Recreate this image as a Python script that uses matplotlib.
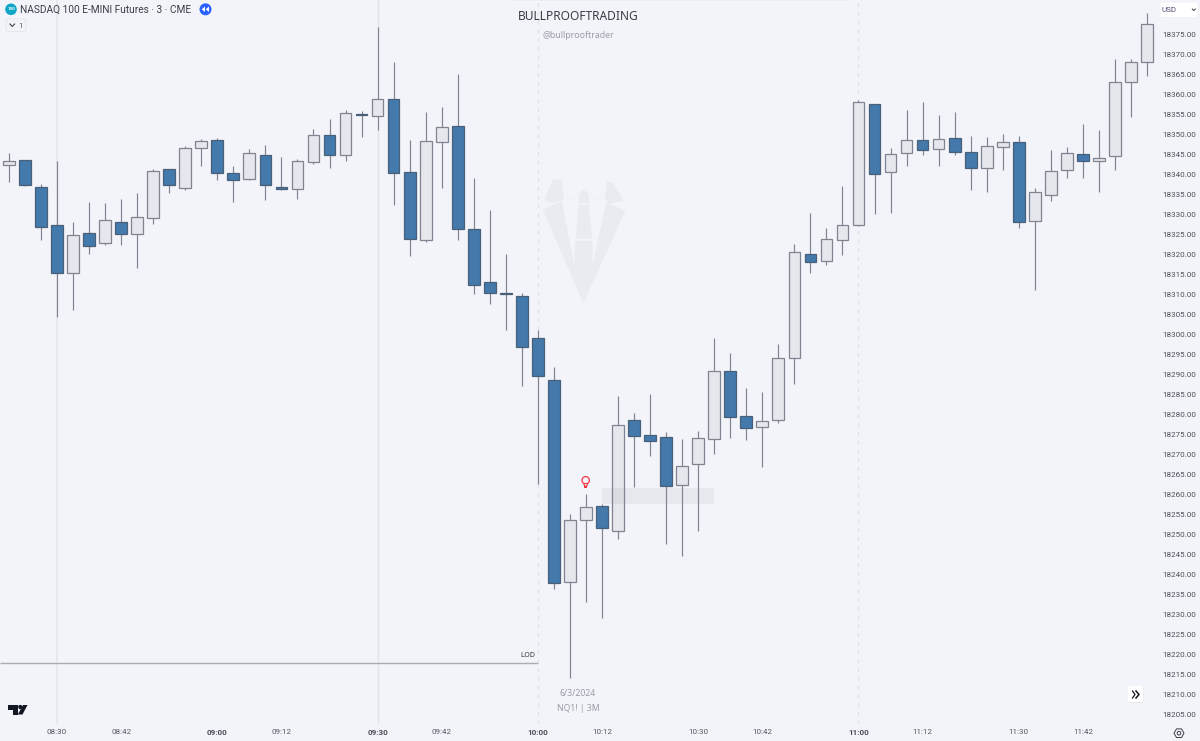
import matplotlib
matplotlib.use("Agg")
import matplotlib.pyplot as plt
from matplotlib.patches import Circle, FancyBboxPatch, Polygon, Rectangle
from matplotlib.transforms import ScaledTranslation
import numpy as np
import pandas as pd

plt.rcParams['font.family'] = ['Roboto', 'DejaVu Sans']

# ---------- data ----------
opens = [18342.25,18343.5,18336.75,18327.25,18315.25,18325.25,18322.75,18328,18325,18329,18341.25,18336.5,
         18346.5,18348.5,18340.25,18338.75,18344.75,18336.75,18336.25,18343,18349.75,18344.75,18355,18354.5,
         18358.75,18340.5,18323.5,18348,18352,18326.25,18313,18310.25,18309.5,18299,18288.5,18238,
         18253.5,18257,18250.75,18278.5,18274.75,18274.25,18262.25,18267.5,18273.75,18290.75,18279.5,18276.75,
         18278.5,18294,18320,18318.25,18323.5,18327.25,18357.5,18340.5,18345.25,18348.5,18346.25,18349,
         18345.5,18341.5,18346.75,18348,18328.25,18334.75,18341,18345,18343.25,18344.5,18363,18368]
highs = [18345.25,18343.5,18337.5,18343.25,18328,18333,18332.75,18333.75,18335.25,18341.25,18341.25,18347,
         18348.75,18349,18342,18346.25,18347.25,18344.25,18343.75,18351.25,18353.75,18356,18355.75,18376.75,
         18368,18348.5,18355.5,18356.75,18365,18339,18331,18320,18310.25,18301,18291.75,18255,
         18260,18257.5,18284.5,18280.25,18285,18275.5,18273.75,18275.75,18299,18295.25,18286.5,18285.5,
         18297.5,18322.5,18330.25,18326.5,18337,18358.5,18357.5,18346.5,18356,18358,18354.75,18355.5,
         18349.5,18349.25,18350,18349.5,18336.5,18346,18346.75,18352.5,18351,18368.75,18368.75,18380.25]
lows = [18338,18337,18323.5,18304.25,18306,18320,18322.25,18322.25,18316.5,18327.5,18335.25,18336,
        18342,18338.5,18333,18338.5,18333.5,18336,18333.75,18342.5,18341.5,18343.25,18349.25,18351,
        18332.25,18319.5,18323,18336.5,18323.5,18310,18307.5,18301,18287,18262.5,18236.25,18214,
        18233,18229,18248.75,18261.75,18269.5,18247.5,18244.5,18250.75,18270,18274,18273.5,18266.75,
        18277.75,18287.5,18315.25,18317.25,18319.75,18327,18330,18330.25,18342,18344.75,18342,18344.75,
        18336,18335.5,18341,18326.5,18311,18333.25,18339,18339,18335.5,18341,18354.25,18364.5]
closes = [18343.25,18337.25,18326.75,18315.25,18324.75,18322,18328.5,18325,18329.25,18340.75,18337.25,18346.5,
          18348.25,18340.25,18338.5,18345.25,18337.25,18336.25,18343.25,18349.75,18344.75,18355.25,18354.75,18358.75,
          18340.25,18323.75,18348.25,18351.75,18326.25,18312.25,18310.25,18310,18296.75,18289.5,18237.75,18253.5,
          18256.75,18251.5,18277.25,18274.5,18273.25,18262,18267,18274,18290.75,18279.25,18276.5,18278.25,
          18294,18320.5,18318,18323.75,18327.25,18358,18340,18345,18348.5,18346,18348.75,18345.5,
          18341.5,18347,18348,18328,18335.5,18340.75,18345.25,18343.25,18344,18363,18368,18377.5]
first_bar_time = "08:21"
tick_labels = ["08:30","08:42","09:00","09:12","09:30","09:42","10:00","10:12","10:30","10:42","11:00","11:12","11:30","11:42"]
bold_labels = ["09:00","09:30","10:00","11:00"]
price_ticks = list(range(18205, 18380, 5))
lod_price = 18217.75
lod_label = "LOD"
zone_prices = (18257.5, 18261.5)
zone_times = ("10:12", "10:33")
solid_times = ["08:30", "09:30"]
dashed_times = ["10:00", "11:00"]
bulb_time = "10:09"

# ---------- style ----------
BG = "#f3f4fa"
W, H = 1200, 741
UP, DOWN, EDGE, DOWN_EDGE = "#e6e7ec", "#4379ab", "#808390", "#4a6078"

fig = plt.figure(figsize=(W/100, H/100), dpi=100, facecolor=BG)

def overlay(z):
    a = fig.add_axes([0, 0, 1, 1], zorder=z)
    a.set_xlim(0, W); a.set_ylim(H, 0); a.axis("off")
    return a

back = overlay(0)
PLOT_W, PLOT_H = 1155, 724
ax = fig.add_axes([0, (H-PLOT_H)/H, PLOT_W/W, PLOT_H/H], zorder=1)
ax.patch.set_alpha(0)
top = overlay(2)

# ---------- suit watermark ----------
SUIT = "#eaebf0"
def z(pts):
    return [(520+x/3, 170+y/3) for x, y in pts]
for pts in (
    [(100,28),(125,28),(131,88),(100,100),(72,90)],
    [(260,36),(280,38),(310,92),(268,102),(254,88)],
    [(68,118),(126,93),(165,300),(190,400)],
    [(316,122),(258,98),(215,300),(190,400)],
    [(175,100),(178,70),(190,58),(205,70),(208,100)],
    [(176,104),(207,104),(216,206),(167,206)],
    [(166,212),(217,212),(218,300),(190,400),(162,300)],
):
    back.add_patch(Polygon(z(pts), closed=True, fc=SUIT, ec="none"))
for pts in ([(132,68),(152,90),(176,66)], [(250,68),(232,90),(208,66)]):
    back.plot(*zip(*z(pts)), color="#eff0f5", lw=0.8)

# ---------- candles ----------
o, h, l, c = map(np.array, (opens, highs, lows, closes))
x = np.arange(len(o))
bar_times = list(pd.date_range("2024-06-03 " + first_bar_time, periods=len(o), freq="3min").strftime("%H:%M"))
idx = {t: i for i, t in enumerate(bar_times)}
is_up = c >= o

ax.set_xlim((0-8.9)/16.03, (PLOT_W-8.9)/16.03)
ax.set_ylim(18375-(PLOT_H-33.8)/4, 18375+33.8/4)

for t in solid_times:
    ax.axvline(idx[t], color="#e6e8ed" if t == "08:30" else "#e1e3e8", lw=1.4 if t == "08:30" else 1.0, zorder=1)
for t in dashed_times:
    ax.axvline(idx[t], color="#dfe1e7", lw=0.9, ls=(0, (3, 4)), zorder=1)
ax.plot([ax.get_xlim()[0], idx[dashed_times[0]]], [lod_price, lod_price], color="#a9acb3", lw=1.0, zorder=2, solid_capstyle="butt")
ax.text(idx[dashed_times[0]]-0.15, lod_price+1.3, lod_label, ha="right", va="bottom", fontsize=5.8, color="#3f424b")

ax.vlines(x, l, h, color=EDGE, lw=0.85, zorder=3)
ax.bar(x[is_up], (c-o)[is_up], bottom=o[is_up], width=0.73, color=UP, edgecolor=EDGE, linewidth=0.9, zorder=4)
ax.bar(x[~is_up], (c-o)[~is_up], bottom=o[~is_up], width=0.73, color=DOWN, edgecolor=DOWN_EDGE, linewidth=0.9, zorder=4)

ax.add_patch(Rectangle((idx[zone_times[0]], zone_prices[0]), idx[zone_times[1]]-idx[zone_times[0]]-0.02,
                       zone_prices[1]-zone_prices[0], fc="#7d8088", alpha=0.10, ec="none", zorder=5))

# ---------- axes ----------
for s in ax.spines.values():
    s.set_visible(False)
ax.yaxis.tick_right()
ax.set_yticks(price_ticks)
ax.set_yticklabels([f"{p:.2f}" for p in price_ticks], fontsize=5.8, color="#4c4f58")
ax.tick_params(axis="y", length=0, pad=5.6)
down_1px = ScaledTranslation(0, -1/100, fig.dpi_scale_trans)
for lab in ax.get_yticklabels():
    lab.set_transform(lab.get_transform() + down_1px)
ax.set_xticks([idx[t] for t in tick_labels])
ax.set_xticklabels(tick_labels, fontsize=5.8, color="#565963")
ax.tick_params(axis="x", length=0, pad=3.4)
for lab in ax.get_xticklabels():
    if lab.get_text() in bold_labels:
        lab.set_fontweight("bold"); lab.set_color("#4a4d57")

# ---------- header ----------
top.add_patch(Rectangle((510, 0), 340, 1, fc="#ebedf2", ec="none"))
top.add_patch(Circle((11, 9.3), 5.8, fc="#0ea5c6", ec="none"))
top.text(11, 9.5, "100", color="white", fontsize=3.2, ha="center", va="center", fontweight="bold")
top.text(19.5, 9.5, "NASDAQ 100 E-MINI Futures · 3 · CME", fontsize=7.25, color="#3c3f48", ha="left", va="center")
top.add_patch(Circle((205.5, 9.3), 6, fc="#2962ff", ec="none"))
top.add_patch(Polygon([(205, 6.5), (205, 12), (201.7, 9.3)], fc="white", ec="none"))
top.add_patch(Polygon([(209, 6.5), (209, 12), (205.7, 9.3)], fc="white", ec="none"))
top.add_patch(FancyBboxPatch((6, 19), 20, 12.5, boxstyle="round,pad=0,rounding_size=2", fc=BG, ec="#e4e6eb", lw=0.7))
top.plot([10, 12.3, 14.6], [24, 26.5, 24], color="#3c3f48", lw=0.8)
top.text(20.5, 25.5, "1", fontsize=6, color="#5d606b", ha="center", va="center")

top.text(578, 16.5, "BULLPROOFTRADING", family=["Noto Sans", "DejaVu Sans"], fontsize=8.6, color="#3a3d46", ha="center", va="center")
top.text(578, 35, "@bullprooftrader", family=["Noto Sans", "DejaVu Sans"], fontsize=6.3, color="#9a9da6", ha="center", va="center")
top.text(578, 693, "6/3/2024", family=["Noto Sans", "DejaVu Sans"], fontsize=6.2, color="#9a9da6", ha="center", va="center")
top.text(578, 708.5, "NQ1! | 3M", family=["Noto Sans", "DejaVu Sans"], fontsize=6.2, color="#9a9da6", ha="center", va="center")

# ---------- bulb ----------
RED = "#f23645"
bx = 8.9 + 16.03*idx[bulb_time]
top.add_patch(Circle((bx-0.3, 480.3), 3.7, fc="none", ec=RED, lw=0.9))
top.add_patch(Polygon([(bx-2.3, 483.5), (bx-1.4, 486), (bx+0.8, 486), (bx+1.7, 483.5)], fc=BG, ec=RED, lw=0.8))
top.add_patch(Rectangle((bx-1.8, 486.4), 3, 1.8, fc=RED, ec="none"))

# ---------- TV logo ----------
INK = "#131722"
top.add_patch(Polygon([(7.5, 705), (18, 705), (18, 714.5), (13, 714.5), (13, 709.5), (7.5, 709.5)], fc=INK, ec="none"))
top.add_patch(Circle((20.3, 707), 2.1, fc=INK, ec="none"))
top.add_patch(Polygon([(23, 705), (27.5, 705), (22.5, 714.5), (17.8, 714.5)], fc=INK, ec="none"))

# ---------- right-hand controls ----------
top.add_patch(FancyBboxPatch((1160, 2), 38, 15.5, boxstyle="round,pad=0,rounding_size=2", fc="white", ec="#eef0f4", lw=0.5))
top.text(1162, 10, "USD", fontsize=5.8, color="#5b4a78", ha="left", va="center")
top.plot([1192.3, 1193.8, 1195.3], [9, 10.6, 9], color="#3c3f48", lw=0.7)

top.add_patch(FancyBboxPatch((1128.5, 687), 15, 16, boxstyle="round,pad=0,rounding_size=2", fc="#e7e9ef", ec="none"))
top.add_patch(FancyBboxPatch((1128, 686), 15, 16, boxstyle="round,pad=0,rounding_size=2", fc="white", ec="none"))
top.plot([1132.5, 1135, 1132.5], [691, 694.5, 698], color=INK, lw=0.9)
top.plot([1136, 1139, 1136], [691, 694.5, 698], color=INK, lw=1.1)

ang = np.deg2rad(np.arange(0, 360, 60))
top.add_patch(Polygon(np.c_[1179+5*np.cos(ang), 733.2+5*np.sin(ang)], closed=True, fc="none", ec="#3c3f48", lw=0.7))
top.add_patch(Circle((1179, 733.2), 1.8, fc="none", ec="#3c3f48", lw=0.7))

fig.savefig("out.png", dpi=100, facecolor=BG)
